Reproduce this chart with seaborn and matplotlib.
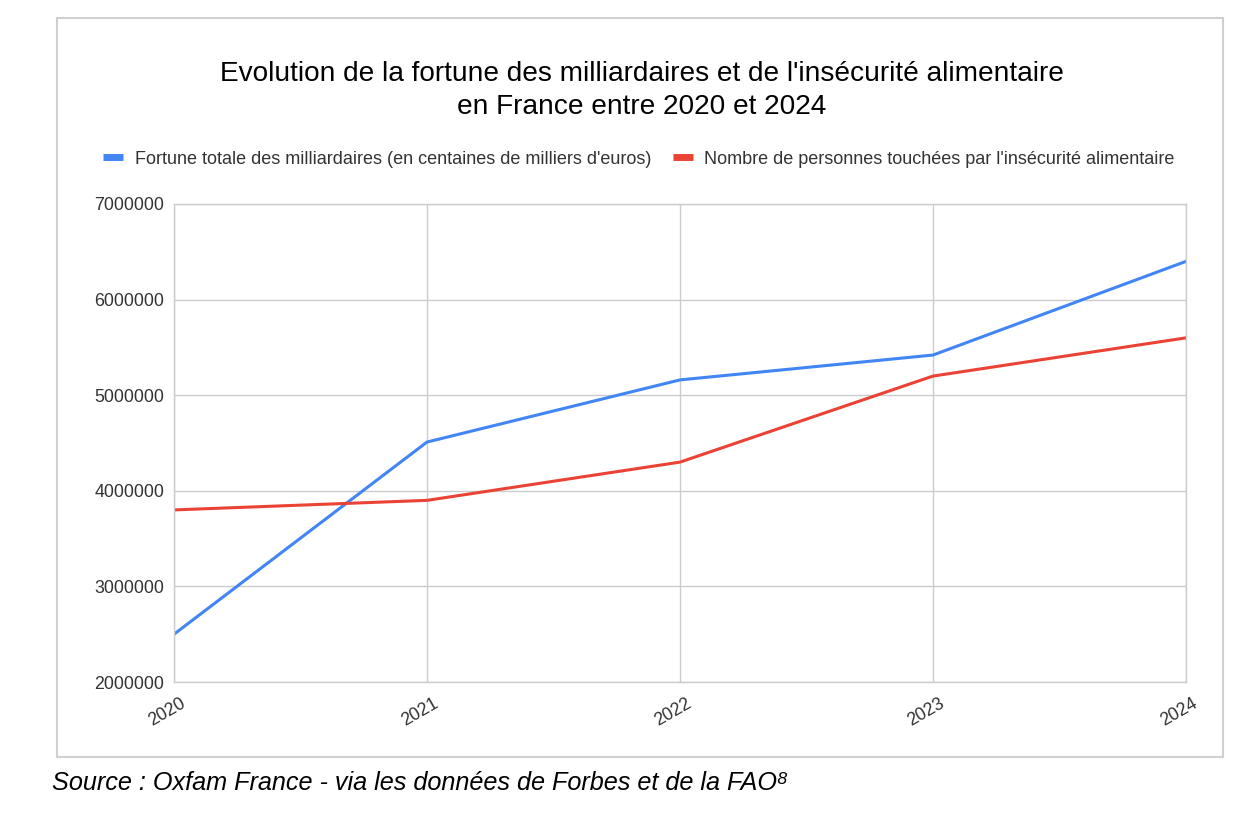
import pandas as pd
import seaborn as sns
import matplotlib.pyplot as plt
import matplotlib.transforms as mtransforms
from matplotlib.patches import Rectangle
from matplotlib.lines import Line2D

years = [2020, 2021, 2022, 2023, 2024]
fortune = [2500000, 4510000, 5160000, 5420000, 6400000]
insecurite = [3800000, 3900000, 4300000, 5200000, 5600000]
series_names = [
    "Fortune totale des milliardaires (en centaines de milliers d'euros)",
    "Nombre de personnes touchées par l'insécurité alimentaire",
]
y_ticks = [2000000, 3000000, 4000000, 5000000, 6000000, 7000000]

df = pd.concat([
    pd.DataFrame({"annee": years, "valeur": fortune, "serie": series_names[0]}),
    pd.DataFrame({"annee": years, "valeur": insecurite, "serie": series_names[1]}),
])

sns.set_style("white")
plt.rcParams["font.family"] = ["Liberation Sans", "DejaVu Sans"]

W, H = 1260, 821
fig = plt.figure(figsize=(W / 100, H / 100), dpi=100)

# outer chart frame
fig.patches.append(Rectangle((57 / W, 1 - 757 / H), (1223 - 57) / W, (757 - 18) / H,
                             transform=fig.transFigure, fill=False,
                             edgecolor="#d0d0d0", linewidth=1.5))

ax = fig.add_axes([174 / W, 1 - 682 / H, (1186 - 174) / W, (682 - 204) / H])
colors = {series_names[0]: "#4285F4", series_names[1]: "#EA4335"}
sns.lineplot(data=df, x="annee", y="valeur", hue="serie", palette=colors,
             linewidth=2.2, legend=False, ax=ax)

ax.set_xlim(years[0], years[-1])
ax.set_ylim(y_ticks[0], y_ticks[-1])
ax.set_xticks(years)
ax.set_xticklabels([str(y) for y in years])
ax.set_yticks(y_ticks)
ax.set_yticklabels([str(v) for v in y_ticks])
ax.grid(True, color="#cccccc", linewidth=1)
ax.set_axisbelow(True)
for sp in ax.spines.values():
    sp.set_color("#cccccc")
    sp.set_linewidth(1)
ax.set_xlabel("")
ax.set_ylabel("")
ax.tick_params(axis="both", length=0, labelsize=12.8, colors="#333333")
ax.tick_params(axis="y", pad=7)
ax.tick_params(axis="x", pad=0)

offset = mtransforms.ScaledTranslation(10 / 100, -20 / 100, fig.dpi_scale_trans)
for lbl in ax.get_xticklabels():
    lbl.set_rotation(30)
    lbl.set_rotation_mode("anchor")
    lbl.set_ha("right")
    lbl.set_va("center")
    lbl.set_transform(lbl.get_transform() + offset)

fig.text(642 / W, 1 - 74 / H, "Evolution de la fortune des milliardaires et de l'insécurité alimentaire",
         ha="center", va="center", fontsize=20.2, color="#000000")
fig.text(642 / W, 1 - 107 / H, "en France entre 2020 et 2024",
         ha="center", va="center", fontsize=20.2, color="#000000")

handles = [Line2D([], [], color=colors[s], linewidth=5, solid_capstyle="butt") for s in series_names]
fig.legend(handles, series_names, loc="center", bbox_to_anchor=(639 / W, 1 - 159 / H),
           ncol=2, frameon=False, fontsize=12.95, handlelength=1.1, handletextpad=0.65,
           columnspacing=1.2, labelcolor="#333333")

fig.text(52 / W, 1 - 783 / H, "Source : Oxfam France - via les données de Forbes et de la FAO⁸",
         ha="left", va="center", fontsize=18.2, style="italic", color="#000000")

fig.savefig("out.png", dpi=100)
